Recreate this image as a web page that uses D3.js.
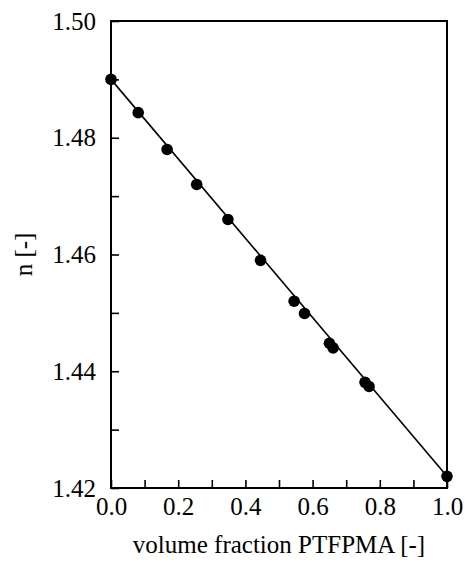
<!DOCTYPE html>
<html><head><meta charset="utf-8">
<script src="https://cdn.jsdelivr.net/npm/d3@7"></script>
<style>
html,body{margin:0;padding:0;background:#fff;}
svg{display:block;font-family:"Liberation Serif","Times New Roman",serif;}
</style></head>
<body>
<svg id="chart" width="474" height="566"></svg>
<script>
// Data
const volumeFraction = [0.000, 0.081, 0.167, 0.255, 0.348, 0.445, 0.545, 0.576, 0.650, 0.661, 0.756, 0.768, 1.000];
const refractiveIndex = [1.4900, 1.4843, 1.4780, 1.4720, 1.4660, 1.4590, 1.4520, 1.4499, 1.4448, 1.4440, 1.4381, 1.4374, 1.4220];
const fitLine = [[0, 1.490], [1, 1.422]];
const xTickValues = [0, 0.1, 0.2, 0.3, 0.4, 0.5, 0.6, 0.7, 0.8, 0.9, 1.0];
const xTickLabels = ["0.0", "", "0.2", "", "0.4", "", "0.6", "", "0.8", "", "1.0"];
const yTickValues = [1.42, 1.43, 1.44, 1.45, 1.46, 1.47, 1.48, 1.49, 1.50];
const yTickLabels = ["1.42", "", "1.44", "", "1.46", "", "1.48", "", "1.50"];
const xTitle = "volume fraction PTFPMA [-]";
const yTitle = "n [-]";

const svg = d3.select("#chart");
const L = 111, R = 447, T = 21, B = 488;
const FS = 25;
const x = d3.scaleLinear().domain([0, 1]).range([L, R]);
const y = d3.scaleLinear().domain([1.42, 1.50]).range([B, T]);

// frame
svg.append("rect").attr("x", L).attr("y", T).attr("width", R - L).attr("height", B - T)
  .attr("fill", "none").attr("stroke", "#000").attr("stroke-width", 2);

// x axis
const xAxis = d3.axisBottom(x).tickValues(xTickValues)
  .tickSize(-8).tickPadding(9)
  .tickFormat((d, i) => xTickLabels[i]);
const gx = svg.append("g").attr("transform", `translate(0,${B})`).call(xAxis);
gx.select(".domain").remove();
gx.selectAll(".tick line").attr("stroke", "#000").attr("stroke-width", 1.6);
gx.selectAll(".tick text").attr("font-size", FS).attr("fill", "#000")
  .attr("font-family", "Liberation Serif, serif");

// y axis
const yAxis = d3.axisLeft(y).tickValues(yTickValues)
  .tickSize(-8).tickPadding(15)
  .tickFormat((d, i) => yTickLabels[i]);
const gy = svg.append("g").attr("transform", `translate(${L},0)`).call(yAxis);
gy.select(".domain").remove();
gy.selectAll(".tick line").attr("stroke", "#000").attr("stroke-width", 1.6);
gy.selectAll(".tick text").attr("font-size", FS).attr("fill", "#000")
  .attr("font-family", "Liberation Serif, serif");

// fit line
svg.append("path").datum(fitLine)
  .attr("d", d3.line().x(d => x(d[0])).y(d => y(d[1])))
  .attr("fill", "none").attr("stroke", "#000").attr("stroke-width", 1.6);

// points
svg.append("g").selectAll("circle").data(volumeFraction.map((v, i) => [v, refractiveIndex[i]]))
  .join("circle")
  .attr("cx", d => x(d[0])).attr("cy", d => y(d[1])).attr("r", 5.8).attr("fill", "#000");

// titles
svg.append("text").attr("x", (L + R) / 2).attr("y", 553).attr("text-anchor", "middle")
  .attr("font-size", FS).text(xTitle);
svg.append("text").attr("transform", `translate(32,${(T + B) / 2}) rotate(-90)`)
  .attr("text-anchor", "middle").attr("font-size", FS).text(yTitle);
</script>
</body></html>
